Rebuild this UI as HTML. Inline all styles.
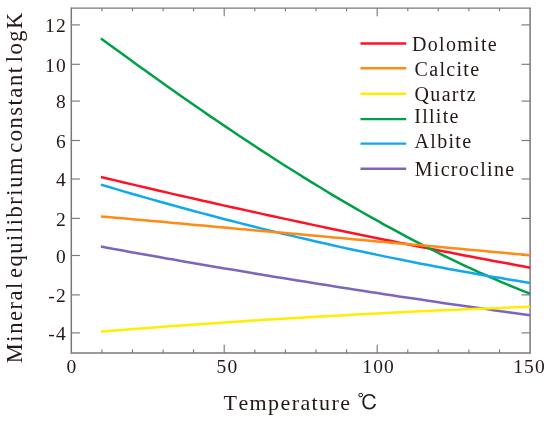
<!DOCTYPE html>
<html><head><meta charset="utf-8"><title>Mineral equilibrium constant logK vs Temperature</title>
<style>
html,body{margin:0;padding:0;background:#fff;}
svg{display:block;}
text{font-kerning:none;font-family:"Liberation Serif","Noto Serif CJK SC",serif;fill:#231815;}
.tk{font-size:19.5px;letter-spacing:1.1px;}
.lg{font-size:20px;letter-spacing:1.3px;}
.xl{font-size:22px;letter-spacing:1.4px;}
.cj{font-family:"IPAGothic","Noto Serif CJK SC",serif;font-size:21px;letter-spacing:0;}
.yl{font-size:22.5px;letter-spacing:1.55px;word-spacing:-4px;}
</style></head><body>
<svg width="550" height="422" viewBox="0 0 550 422">
<rect x="0" y="0" width="550" height="422" fill="#ffffff"/>
<path d="M71.3,7.6 V353.65 M530.1,7.6 V353.65" fill="none" stroke="#7d7779" stroke-width="1.5"/>
<path d="M71.3,8.2 H530.1 M71.3,353.0 H530.1" fill="none" stroke="#7d7779" stroke-width="1.3"/>
<line x1="101.9" y1="353.0" x2="101.9" y2="349.4" stroke="#7d7779" stroke-width="1.15"/>
<line x1="101.9" y1="8.2" x2="101.9" y2="11.2" stroke="#7d7779" stroke-width="1.15"/>
<line x1="132.5" y1="353.0" x2="132.5" y2="349.4" stroke="#7d7779" stroke-width="1.15"/>
<line x1="132.5" y1="8.2" x2="132.5" y2="11.2" stroke="#7d7779" stroke-width="1.15"/>
<line x1="163.1" y1="353.0" x2="163.1" y2="349.4" stroke="#7d7779" stroke-width="1.15"/>
<line x1="163.1" y1="8.2" x2="163.1" y2="11.2" stroke="#7d7779" stroke-width="1.15"/>
<line x1="193.6" y1="353.0" x2="193.6" y2="349.4" stroke="#7d7779" stroke-width="1.15"/>
<line x1="193.6" y1="8.2" x2="193.6" y2="11.2" stroke="#7d7779" stroke-width="1.15"/>
<line x1="224.2" y1="353.0" x2="224.2" y2="344.8" stroke="#7d7779" stroke-width="1.15"/>
<line x1="224.2" y1="8.2" x2="224.2" y2="16.2" stroke="#7d7779" stroke-width="1.15"/>
<line x1="254.8" y1="353.0" x2="254.8" y2="349.4" stroke="#7d7779" stroke-width="1.15"/>
<line x1="254.8" y1="8.2" x2="254.8" y2="11.2" stroke="#7d7779" stroke-width="1.15"/>
<line x1="285.4" y1="353.0" x2="285.4" y2="349.4" stroke="#7d7779" stroke-width="1.15"/>
<line x1="285.4" y1="8.2" x2="285.4" y2="11.2" stroke="#7d7779" stroke-width="1.15"/>
<line x1="316.0" y1="353.0" x2="316.0" y2="349.4" stroke="#7d7779" stroke-width="1.15"/>
<line x1="316.0" y1="8.2" x2="316.0" y2="11.2" stroke="#7d7779" stroke-width="1.15"/>
<line x1="346.6" y1="353.0" x2="346.6" y2="349.4" stroke="#7d7779" stroke-width="1.15"/>
<line x1="346.6" y1="8.2" x2="346.6" y2="11.2" stroke="#7d7779" stroke-width="1.15"/>
<line x1="377.2" y1="353.0" x2="377.2" y2="344.8" stroke="#7d7779" stroke-width="1.15"/>
<line x1="377.2" y1="8.2" x2="377.2" y2="16.2" stroke="#7d7779" stroke-width="1.15"/>
<line x1="407.8" y1="353.0" x2="407.8" y2="349.4" stroke="#7d7779" stroke-width="1.15"/>
<line x1="407.8" y1="8.2" x2="407.8" y2="11.2" stroke="#7d7779" stroke-width="1.15"/>
<line x1="438.3" y1="353.0" x2="438.3" y2="349.4" stroke="#7d7779" stroke-width="1.15"/>
<line x1="438.3" y1="8.2" x2="438.3" y2="11.2" stroke="#7d7779" stroke-width="1.15"/>
<line x1="468.9" y1="353.0" x2="468.9" y2="349.4" stroke="#7d7779" stroke-width="1.15"/>
<line x1="468.9" y1="8.2" x2="468.9" y2="11.2" stroke="#7d7779" stroke-width="1.15"/>
<line x1="499.5" y1="353.0" x2="499.5" y2="349.4" stroke="#7d7779" stroke-width="1.15"/>
<line x1="499.5" y1="8.2" x2="499.5" y2="11.2" stroke="#7d7779" stroke-width="1.15"/>
<line x1="71.3" y1="332.9" x2="79.89999999999999" y2="332.9" stroke="#7d7779" stroke-width="1.15"/>
<line x1="530.1" y1="332.9" x2="521.5" y2="332.9" stroke="#7d7779" stroke-width="1.15"/>
<text x="66.8" y="340.2" text-anchor="end" class="tk">-4</text>
<line x1="71.3" y1="294.9" x2="79.89999999999999" y2="294.9" stroke="#7d7779" stroke-width="1.15"/>
<line x1="530.1" y1="294.9" x2="521.5" y2="294.9" stroke="#7d7779" stroke-width="1.15"/>
<text x="66.8" y="302.2" text-anchor="end" class="tk">-2</text>
<line x1="71.3" y1="255.5" x2="79.89999999999999" y2="255.5" stroke="#7d7779" stroke-width="1.15"/>
<line x1="530.1" y1="255.5" x2="521.5" y2="255.5" stroke="#7d7779" stroke-width="1.15"/>
<text x="66.8" y="262.8" text-anchor="end" class="tk">0</text>
<line x1="71.3" y1="218.4" x2="79.89999999999999" y2="218.4" stroke="#7d7779" stroke-width="1.15"/>
<line x1="530.1" y1="218.4" x2="521.5" y2="218.4" stroke="#7d7779" stroke-width="1.15"/>
<text x="66.8" y="225.7" text-anchor="end" class="tk">2</text>
<line x1="71.3" y1="179.0" x2="79.89999999999999" y2="179.0" stroke="#7d7779" stroke-width="1.15"/>
<line x1="530.1" y1="179.0" x2="521.5" y2="179.0" stroke="#7d7779" stroke-width="1.15"/>
<text x="66.8" y="186.3" text-anchor="end" class="tk">4</text>
<line x1="71.3" y1="140.5" x2="79.89999999999999" y2="140.5" stroke="#7d7779" stroke-width="1.15"/>
<line x1="530.1" y1="140.5" x2="521.5" y2="140.5" stroke="#7d7779" stroke-width="1.15"/>
<text x="66.8" y="147.8" text-anchor="end" class="tk">6</text>
<line x1="71.3" y1="101.1" x2="79.89999999999999" y2="101.1" stroke="#7d7779" stroke-width="1.15"/>
<line x1="530.1" y1="101.1" x2="521.5" y2="101.1" stroke="#7d7779" stroke-width="1.15"/>
<text x="66.8" y="108.4" text-anchor="end" class="tk">8</text>
<line x1="71.3" y1="64.3" x2="79.89999999999999" y2="64.3" stroke="#7d7779" stroke-width="1.15"/>
<line x1="530.1" y1="64.3" x2="521.5" y2="64.3" stroke="#7d7779" stroke-width="1.15"/>
<text x="66.8" y="71.6" text-anchor="end" class="tk">10</text>
<line x1="71.3" y1="24.9" x2="79.89999999999999" y2="24.9" stroke="#7d7779" stroke-width="1.15"/>
<line x1="530.1" y1="24.9" x2="521.5" y2="24.9" stroke="#7d7779" stroke-width="1.15"/>
<text x="66.8" y="32.2" text-anchor="end" class="tk">12</text>
<text x="72.0" y="372.7" text-anchor="middle" class="tk">0</text>
<text x="227.4" y="372.7" text-anchor="middle" class="tk">50</text>
<text x="378.6" y="372.7" text-anchor="middle" class="tk">100</text>
<text x="529.5" y="372.7" text-anchor="middle" class="tk">150</text>
<path d="M100.9,177.0 L108.2,178.7 L115.4,180.4 L122.7,182.2 L130.0,183.9 L137.3,185.6 L144.5,187.3 L151.8,189.0 L159.1,190.7 L166.4,192.4 L173.6,194.1 L180.9,195.7 L188.2,197.4 L195.4,199.0 L202.7,200.7 L210.0,202.3 L217.3,204.0 L224.5,205.6 L231.8,207.2 L239.1,208.8 L246.4,210.4 L253.6,212.0 L260.9,213.6 L268.2,215.2 L275.4,216.8 L282.7,218.4 L290.0,219.9 L297.3,221.5 L304.5,223.0 L311.8,224.6 L319.1,226.1 L326.4,227.7 L333.6,229.2 L340.9,230.7 L348.2,232.2 L355.5,233.7 L362.7,235.2 L370.0,236.7 L377.3,238.2 L384.5,239.7 L391.8,241.1 L399.1,242.6 L406.4,244.0 L413.6,245.5 L420.9,246.9 L428.2,248.4 L435.5,249.8 L442.7,251.2 L450.0,252.6 L457.3,254.0 L464.5,255.4 L471.8,256.8 L479.1,258.2 L486.4,259.6 L493.6,260.9 L500.9,262.3 L508.2,263.6 L515.5,265.0 L522.7,266.3 L530.0,267.7" fill="none" stroke="#ff1224" stroke-width="2.5"/>
<path d="M100.9,38.4 L108.2,43.7 L115.4,49.0 L122.7,54.3 L130.0,59.6 L137.3,64.9 L144.5,70.1 L151.8,75.3 L159.1,80.5 L166.4,85.7 L173.6,90.8 L180.9,95.9 L188.2,101.0 L195.4,106.0 L202.7,111.1 L210.0,116.1 L217.3,121.0 L224.5,125.9 L231.8,130.8 L239.1,135.7 L246.4,140.5 L253.6,145.3 L260.9,150.1 L268.2,154.8 L275.4,159.5 L282.7,164.2 L290.0,168.8 L297.3,173.3 L304.5,177.9 L311.8,182.4 L319.1,186.8 L326.4,191.2 L333.6,195.6 L340.9,199.9 L348.2,204.1 L355.5,208.4 L362.7,212.5 L370.0,216.7 L377.3,220.7 L384.5,224.8 L391.8,228.7 L399.1,232.7 L406.4,236.6 L413.6,240.4 L420.9,244.1 L428.2,247.9 L435.5,251.5 L442.7,255.1 L450.0,258.7 L457.3,262.2 L464.5,265.6 L471.8,268.9 L479.1,272.3 L486.4,275.5 L493.6,278.7 L500.9,281.8 L508.2,284.9 L515.5,287.9 L522.7,290.8 L530.0,293.7" fill="none" stroke="#00a046" stroke-width="2.5"/>
<path d="M100.9,184.6 L108.2,186.8 L115.4,188.9 L122.7,191.1 L130.0,193.2 L137.3,195.3 L144.5,197.4 L151.8,199.4 L159.1,201.5 L166.4,203.5 L173.6,205.5 L180.9,207.5 L188.2,209.5 L195.4,211.5 L202.7,213.4 L210.0,215.3 L217.3,217.3 L224.5,219.2 L231.8,221.0 L239.1,222.9 L246.4,224.7 L253.6,226.5 L260.9,228.4 L268.2,230.1 L275.4,231.9 L282.7,233.7 L290.0,235.4 L297.3,237.1 L304.5,238.8 L311.8,240.5 L319.1,242.2 L326.4,243.8 L333.6,245.5 L340.9,247.1 L348.2,248.7 L355.5,250.2 L362.7,251.8 L370.0,253.3 L377.3,254.9 L384.5,256.4 L391.8,257.9 L399.1,259.3 L406.4,260.8 L413.6,262.2 L420.9,263.7 L428.2,265.1 L435.5,266.5 L442.7,267.8 L450.0,269.2 L457.3,270.5 L464.5,271.8 L471.8,273.1 L479.1,274.4 L486.4,275.7 L493.6,276.9 L500.9,278.1 L508.2,279.4 L515.5,280.6 L522.7,281.7 L530.0,282.9" fill="none" stroke="#10a8f0" stroke-width="2.5"/>
<path d="M100.9,246.6 L108.2,248.0 L115.4,249.3 L122.7,250.6 L130.0,251.9 L137.3,253.2 L144.5,254.5 L151.8,255.8 L159.1,257.1 L166.4,258.4 L173.6,259.6 L180.9,260.9 L188.2,262.2 L195.4,263.4 L202.7,264.7 L210.0,265.9 L217.3,267.2 L224.5,268.4 L231.8,269.6 L239.1,270.8 L246.4,272.1 L253.6,273.3 L260.9,274.5 L268.2,275.7 L275.4,276.9 L282.7,278.1 L290.0,279.3 L297.3,280.4 L304.5,281.6 L311.8,282.8 L319.1,283.9 L326.4,285.1 L333.6,286.3 L340.9,287.4 L348.2,288.5 L355.5,289.7 L362.7,290.8 L370.0,291.9 L377.3,293.0 L384.5,294.2 L391.8,295.3 L399.1,296.4 L406.4,297.5 L413.6,298.6 L420.9,299.6 L428.2,300.7 L435.5,301.8 L442.7,302.9 L450.0,303.9 L457.3,305.0 L464.5,306.0 L471.8,307.1 L479.1,308.1 L486.4,309.1 L493.6,310.2 L500.9,311.2 L508.2,312.2 L515.5,313.2 L522.7,314.2 L530.0,315.2" fill="none" stroke="#7d64be" stroke-width="2.5"/>
<path d="M100.9,331.6 L108.2,331.0 L115.4,330.5 L122.7,329.9 L130.0,329.3 L137.3,328.8 L144.5,328.2 L151.8,327.7 L159.1,327.1 L166.4,326.6 L173.6,326.1 L180.9,325.5 L188.2,325.0 L195.4,324.5 L202.7,324.0 L210.0,323.5 L217.3,323.0 L224.5,322.5 L231.8,322.0 L239.1,321.5 L246.4,321.0 L253.6,320.6 L260.9,320.1 L268.2,319.6 L275.4,319.2 L282.7,318.7 L290.0,318.3 L297.3,317.9 L304.5,317.4 L311.8,317.0 L319.1,316.6 L326.4,316.2 L333.6,315.8 L340.9,315.4 L348.2,315.0 L355.5,314.6 L362.7,314.2 L370.0,313.8 L377.3,313.4 L384.5,313.1 L391.8,312.7 L399.1,312.3 L406.4,312.0 L413.6,311.6 L420.9,311.3 L428.2,310.9 L435.5,310.6 L442.7,310.3 L450.0,310.0 L457.3,309.7 L464.5,309.3 L471.8,309.0 L479.1,308.7 L486.4,308.4 L493.6,308.2 L500.9,307.9 L508.2,307.6 L515.5,307.3 L522.7,307.1 L530.0,306.8" fill="none" stroke="#ffee00" stroke-width="2.5"/>
<path d="M100.9,216.4 L108.2,217.0 L115.4,217.7 L122.7,218.3 L130.0,219.0 L137.3,219.7 L144.5,220.3 L151.8,221.0 L159.1,221.6 L166.4,222.3 L173.6,223.0 L180.9,223.6 L188.2,224.3 L195.4,224.9 L202.7,225.6 L210.0,226.2 L217.3,226.9 L224.5,227.6 L231.8,228.2 L239.1,228.9 L246.4,229.5 L253.6,230.2 L260.9,230.9 L268.2,231.5 L275.4,232.2 L282.7,232.8 L290.0,233.5 L297.3,234.1 L304.5,234.8 L311.8,235.5 L319.1,236.1 L326.4,236.8 L333.6,237.4 L340.9,238.1 L348.2,238.7 L355.5,239.4 L362.7,240.1 L370.0,240.7 L377.3,241.4 L384.5,242.0 L391.8,242.7 L399.1,243.4 L406.4,244.0 L413.6,244.7 L420.9,245.3 L428.2,246.0 L435.5,246.6 L442.7,247.3 L450.0,248.0 L457.3,248.6 L464.5,249.3 L471.8,249.9 L479.1,250.6 L486.4,251.3 L493.6,251.9 L500.9,252.6 L508.2,253.2 L515.5,253.9 L522.7,254.5 L530.0,255.2" fill="none" stroke="#ff8a14" stroke-width="2.5"/>
<line x1="360.5" y1="43.5" x2="406.2" y2="43.5" stroke="#ff1224" stroke-width="2.4"/>
<text x="412.0" y="51.3" class="lg">Dolomite</text>
<line x1="360.5" y1="68.2" x2="406.2" y2="68.2" stroke="#ff8a14" stroke-width="2.4"/>
<text x="414.6" y="76.0" class="lg">Calcite</text>
<line x1="360.5" y1="93.7" x2="406.2" y2="93.7" stroke="#ffee00" stroke-width="2.4"/>
<text x="414.6" y="101.1" class="lg">Quartz</text>
<line x1="360.5" y1="119.1" x2="406.2" y2="119.1" stroke="#00a046" stroke-width="2.4"/>
<text x="414.2" y="122.9" class="lg">Illite</text>
<line x1="360.5" y1="143.6" x2="406.2" y2="143.6" stroke="#10a8f0" stroke-width="2.4"/>
<text x="414.6" y="148.4" class="lg">Albite</text>
<line x1="360.5" y1="168.8" x2="406.2" y2="168.8" stroke="#7d64be" stroke-width="2.4"/>
<text x="414.7" y="176.4" class="lg">Microcline</text>
<text x="223.6" y="409.5" class="xl">Temperature <tspan class="cj" x="357.3" dy="0.6">℃</tspan></text>
<text transform="translate(22.3,363.2) rotate(-90) scale(1,1.06)" class="yl">Mineral equilibrium constant logK</text>
</svg>
</body></html>
